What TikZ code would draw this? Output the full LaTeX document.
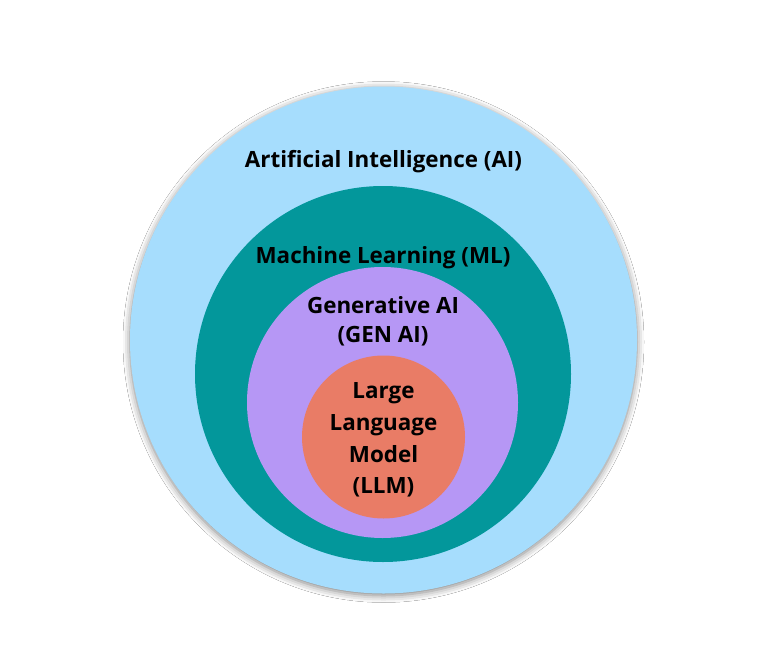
\documentclass[tikz,border=0pt]{standalone}
\usepackage{fontspec}
\setmainfont{Open Sans}
\usetikzlibrary{shadows.blur}
\definecolor{aiblue}{HTML}{A6DDFD}
\definecolor{mlteal}{HTML}{03979B}
\definecolor{genpurple}{HTML}{B697F5}
\definecolor{llmorange}{HTML}{E97C66}
\tikzset{
  ring/.style={circle, inner sep=0pt, draw=none},
  lbl/.style={font=\fontsize{22.4}{29}\selectfont\bfseries, text=black, align=center, inner sep=0pt}
}
\begin{document}
\begin{tikzpicture}[x=1pt,y=-1pt]
\useasboundingbox[fill=white] (0,0) rectangle (768,669);
\node[ring, fill=aiblue, minimum size=507pt, blur shadow={shadow xshift=0pt, shadow yshift=-2pt, shadow blur radius=7pt, shadow opacity=50}] (ai) at (383.5,340) {};
\node[ring, fill=mlteal, minimum size=376pt] (ml) at (383,374) {};
\node[ring, fill=genpurple, minimum size=271pt] (gen) at (382.5,402.5) {};
\node[ring, fill=llmorange, minimum size=163pt] (llm) at (383.5,437) {};
\node[lbl, anchor=base] (tai) at (383.5,167) {Artificial Intelligence (AI)};
\node[lbl, anchor=base] (tml) at (383,263) {Machine Learning (ML)};
\node[lbl] (tgen) at (383,321) {Generative AI\\(GEN AI)};
\node[lbl, font=\fontsize{22.4}{31.7}\selectfont\bfseries] (tllm) at (383.5,440) {Large\\Language\\Model\\(LLM)};
\end{tikzpicture}
\end{document}
